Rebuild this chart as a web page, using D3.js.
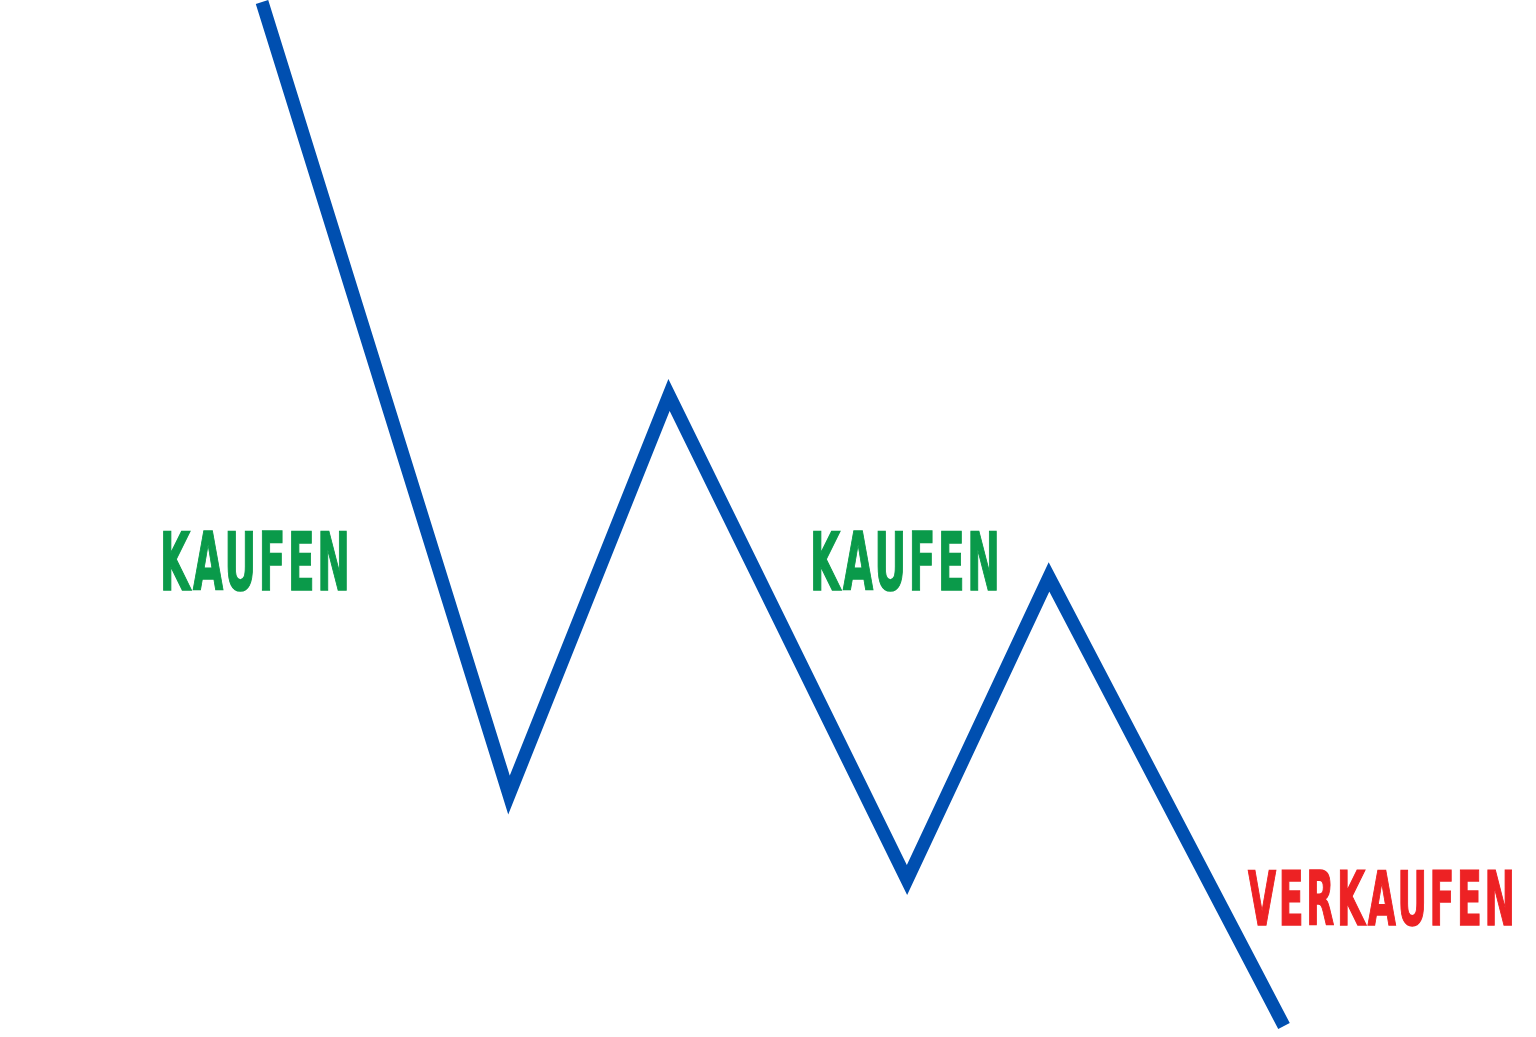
<!DOCTYPE html>
<html>
<head>
<meta charset="utf-8">
<script src="https://cdn.jsdelivr.net/npm/d3@7"></script>
<style>
  html, body { margin: 0; padding: 0; background: #fff; }
  svg { display: block; }
</style>
</head>
<body>
<svg id="chart"></svg>
<script>
// price path (time step, price level)
const steps = [0, 1, 2, 3, 4, 5];
const timeVals = [262, 509, 669, 907, 1049, 1284];
const priceVals = [1035, 242, 642, 157, 460, 11];

// signal labels
const labels = ["KAUFEN", "KAUFEN", "VERKAUFEN"];
const labelTime = [160, 810, 1248];
const labelPrice = [447, 447, 112];
const labelKind = ["buy", "buy", "sell"];

const width = 1536, height = 1037;
const svg = d3.select("#chart").attr("width", width).attr("height", height);

const x = d3.scaleLinear([0, 1536], [0, width]);
const y = d3.scaleLinear([0, 1037], [height, 0]);

const pts = steps.map(i => ({t: timeVals[i], p: priceVals[i]}));

const line = d3.line(d => x(d.t), d => y(d.p));
svg.append("path")
  .datum(pts)
  .attr("d", line)
  .attr("fill", "none")
  .attr("stroke", "#004fb0")
  .attr("stroke-width", 13)
  .attr("stroke-linejoin", "miter")
  .attr("stroke-miterlimit", 10)
  .attr("stroke-linecap", "butt");

const colour = {buy: "#0a9a4a", sell: "#ed2224"};
const fontSize = {buy: 81, sell: 74};
const textW = {buy: 190, sell: 267};
const spacing = 5;

svg.selectAll("text.signal")
  .data(labels.map((l, i) => ({l, t: labelTime[i], p: labelPrice[i], k: labelKind[i]})))
  .enter()
  .append("text")
  .attr("class", "signal")
  .attr("fill", d => colour[d.k])
  .attr("stroke", d => colour[d.k])
  .attr("stroke-width", 1.5)
  .attr("font-family", "'Liberation Sans Narrow', 'DejaVu Sans Condensed', sans-serif")
  .attr("font-weight", "bold")
  .attr("font-size", d => fontSize[d.k])
  .attr("letter-spacing", spacing)
  .text(d => d.l)
  .each(function(d) {
    const w = this.getComputedTextLength() - spacing;
    const sx = textW[d.k] / w;
    d3.select(this)
      .attr("transform", `translate(${x(d.t)},${y(d.p)}) scale(${sx},1)`);
  });
</script>
</body>
</html>
